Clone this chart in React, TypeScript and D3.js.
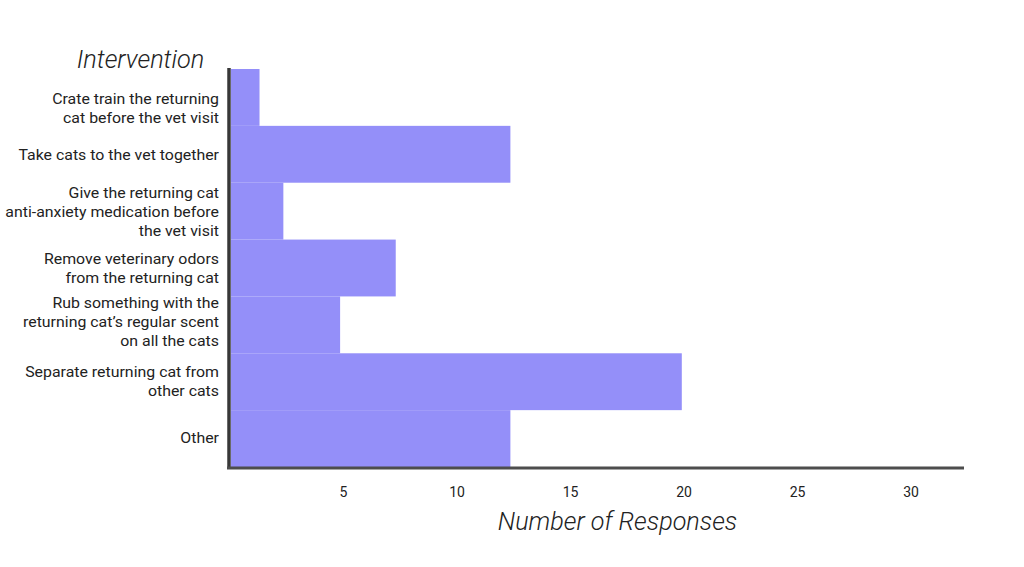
import React from 'react';
import * as d3 from 'd3';

const interventions = [
  'Crate train the returning\ncat before the vet visit',
  'Take cats to the vet together',
  'Give the returning cat\nanti-anxiety medication before\nthe vet visit',
  'Remove veterinary odors\nfrom the returning cat',
  'Rub something with the\nreturning cat\u2019s regular scent\non all the cats',
  'Separate returning cat from\nother cats',
  'Other',
];
const responses = [1.3, 12.35, 2.35, 7.3, 4.85, 19.9, 12.35];
const tickValues = [5, 10, 15, 20, 25, 30];

const width = 1024;
const height = 567;
const margin = { top: 69, right: 60, bottom: 100, left: 230 };

const App: React.FC = () => {
  const x = d3.scaleLinear()
    .domain([0, 32.33])
    .range([margin.left, width - margin.right]);

  const y = d3.scaleBand<string>()
    .domain(interventions)
    .range([margin.top, height - margin.bottom])
    .padding(0);

  const lineHeight = 19;
  const labelRight = 219;

  return (
    <svg
      width={width}
      height={height}
      style={{ position: 'absolute', left: 0, top: 0, background: '#fff' }}
      fontFamily="Roboto, sans-serif"
    >
      {/* bars, stacked edge to edge */}
      {interventions.map((d, i) => (
        <rect
          key={d}
          x={x(0) + 1}
          y={y(d)!}
          width={x(responses[i]) - x(0) - 1}
          height={y.bandwidth()}
          fill="#948ff9"
        />
      ))}

      {/* category labels (original text is a bit stretched horizontally) */}
      {interventions.map((d, i) => {
        const lines = d.split('\n');
        // a couple of labels sit slightly off-centre in the original
        const nudge = i === 0 ? 10 : i === 4 ? -4 : i >= 5 ? -1.5 : 0;
        const cy = y(d)! + y.bandwidth() / 2 + nudge;
        const first = cy - ((lines.length - 1) * lineHeight) / 2 + 6;
        return (
          <text
            key={d}
            transform={`translate(${labelRight},0) scale(1.12,1)`}
            textAnchor="end"
            fontSize={14.2}
            fill="#222"
          >
            {lines.map((l, j) => (
              <tspan key={j} x={0} y={first + j * lineHeight}>{l}</tspan>
            ))}
          </text>
        );
      })}

      {/* axes */}
      <line x1={229} x2={229} y1={68} y2={469} stroke="#383838" strokeWidth={3.5} />
      <line x1={227} x2={x.range()[1]} y1={468} y2={468} stroke="#4d4d4d" strokeWidth={3} />

      {/* x tick labels */}
      {tickValues.map(t => (
        <text key={t} x={x(t)} y={497} textAnchor="middle" fontSize={14} fill="#222">{t}</text>
      ))}

      {/* axis titles */}
      <text x={140.5} y={68} textAnchor="middle" fontSize={25.3} fontStyle="italic" fontWeight={300} fill="#222">
        Intervention
      </text>
      <text x={617.5} y={530} textAnchor="middle" fontSize={25.2} fontStyle="italic" fontWeight={300} fill="#222">
        Number of Responses
      </text>
    </svg>
  );
};

export default App;
